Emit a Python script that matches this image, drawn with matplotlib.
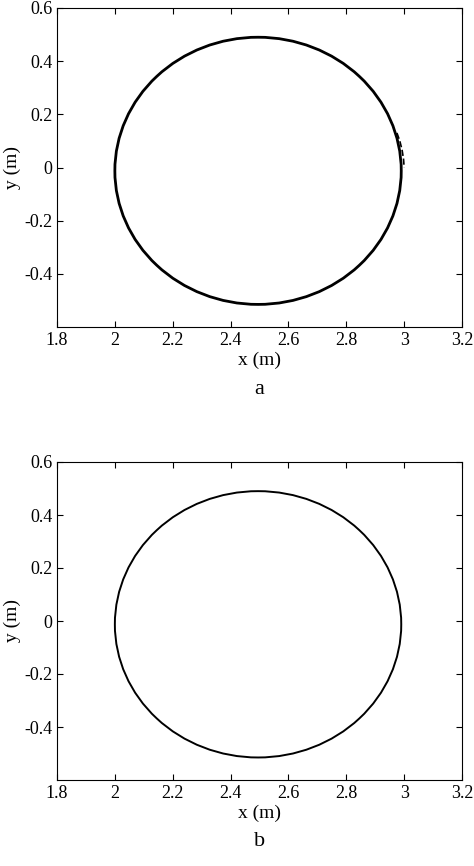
import matplotlib
matplotlib.use("Agg")
import matplotlib.pyplot as plt
from matplotlib.patches import Ellipse

plt.rcParams['font.family'] = ['Liberation Serif', 'DejaVu Serif']

center = (2.495, -0.0125)
width_x = 0.99
height_y = 1.005
start_x = [2.975, 2.985, 2.993, 2.998, 3.0]
start_y = [0.13, 0.10, 0.065, 0.03, 0.0]
xticks = [1.8, 2, 2.2, 2.4, 2.6, 2.8, 3, 3.2]
yticks = [-0.4, -0.2, 0, 0.2, 0.4, 0.6]

fig = plt.figure(figsize=(4.74, 8.66), dpi=100)
axes = [fig.add_axes([57/474, 1-327/866, 405/474, 319/866]),
        fig.add_axes([57/474, 1-780/866, 405/474, 318/866])]
for i, (ax, lab) in enumerate(zip(axes, ['a', 'b'])):
    ax.add_patch(Ellipse(center, width_x, height_y, fill=False, color='black',
                         lw=2.0 if i == 0 else 1.4))
    if i == 0:
        ax.plot(start_x, start_y, '--', color='black', lw=1.2)
    ax.set_xlim(1.8, 3.2)
    ax.set_ylim(-0.6, 0.6)
    ax.set_xticks(xticks)
    ax.set_xticklabels(['1.8', '2', '2.2', '2.4', '2.6', '2.8', '3', '3.2'])
    ax.set_yticks(yticks)
    ax.set_yticklabels(['-0.4', '-0.2', '0', '0.2', '0.4', '0.6'])
    ax.tick_params(direction='in', labelsize=13, top=True, right=True, length=4)
    ax.set_xlabel('x (m)', fontsize=14, labelpad=2)
    ax.set_ylabel('y (m)', fontsize=14, labelpad=2)
    ax.text(0.5, -0.165, lab, transform=ax.transAxes, ha='center', va='top', fontsize=16)
fig.savefig('out.png', dpi=100)
